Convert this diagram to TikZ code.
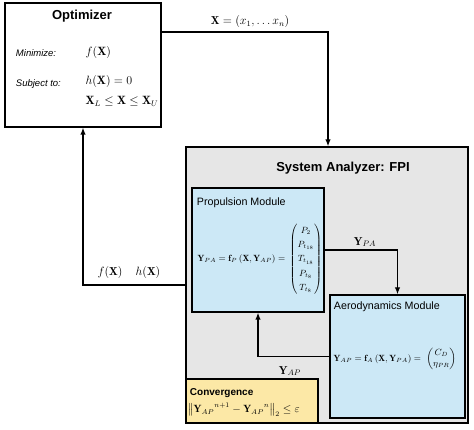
\documentclass[tikz,border=0pt]{standalone}
\usepackage{amsmath}
\usepackage{fontspec}
\setsansfont{Liberation Sans}
\usetikzlibrary{arrows.meta}

\definecolor{sysgray}{HTML}{E6E6E6}
\definecolor{modblue}{HTML}{CCE8F6}
\definecolor{convyellow}{HTML}{FCE8A6}

\begin{document}
\begin{tikzpicture}[x=1pt, y=-1pt, line width=1.3pt, line join=miter,
  box/.style={draw, rectangle, inner sep=0pt},
  conn/.style={-{Latex[length=7pt,width=5.5pt]}},
  title/.style={font=\sffamily\bfseries\fontsize{13}{15}\selectfont},
  modlabel/.style={font=\sffamily\fontsize{10.7}{12}\selectfont, anchor=west},
  sublabel/.style={font=\sffamily\itshape\fontsize{9.5}{11}\selectfont, anchor=west},
  eq/.style={font=\fontsize{12}{14}\selectfont, anchor=west, inner sep=0pt},
  smalleq/.style={font=\fontsize{9}{11}\selectfont, anchor=west, inner sep=0pt},
  lbl/.style={font=\fontsize{11.5}{14}\selectfont, inner sep=0pt}]

  %% ════ boxes ════
  \node[box, fill=white, minimum width=156pt, minimum height=124pt] (opt) at (83,65) {};
  \node[box, fill=sysgray, minimum width=282pt, minimum height=276pt] (sys) at (327,285) {};
  \node[box, fill=modblue, minimum width=132pt, minimum height=124pt] (prop) at (258,250) {};
  \node[box, fill=modblue, minimum width=135pt, minimum height=123pt] (aero) at (397.5,356.5) {};
  \node[box, fill=convyellow, minimum width=132pt, minimum height=44pt] (conv) at (252,401) {};

  %% ════ optimizer text ════
  \node[title] (opttitle) at (82,16) {Optimizer};
  \node[sublabel] (minlbl) at (12,53) {Minimize:};
  \node[eq] (minobj) at (85,53) {$f(\mathbf{X})$};
  \node[sublabel] (sublbl) at (12,84) {Subject to:};
  \node[eq] (eqcon) at (85,82) {$h(\mathbf{X}) = 0$};
  \node[eq] (bndcon) at (85,101) {$\mathbf{X}_L \le \mathbf{X} \le \mathbf{X}_U$};

  %% ════ system analyzer text ════
  \node[title] (systitle) at (343,168) {System Analyzer: FPI};
  \node[modlabel] (proptitle) at (193,203) {Propulsion Module};
  \node[smalleq] (propeq) at (197,259) {$\mathbf{Y}_{PA} = \mathbf{f}_P\,(\mathbf{X},\mathbf{Y}_{AP}) =\,
    \renewcommand{\arraystretch}{1.3}\begin{pmatrix} P_2\\ P_{t_{18}}\\ T_{t_{18}}\\ P_{t_8}\\ T_{t_8} \end{pmatrix}$};
  \node[modlabel] (aerotitle) at (330,307) {Aerodynamics Module};
  \node[smalleq] (aeroeq) at (333,359) {$\mathbf{Y}_{AP} = \mathbf{f}_A\,(\mathbf{X},\mathbf{Y}_{PA}) = \;
    \begin{pmatrix} C_D\\ \eta_{PR} \end{pmatrix}$};
  \node[font=\sffamily\bfseries\fontsize{10}{12}\selectfont, anchor=west] (convtitle) at (186,393) {Convergence};
  \node[eq, font=\fontsize{10.5}{12}\selectfont] (conveq) at (187,410) {$\left\| {\mathbf{Y}_{AP}}^{n+1} - {\mathbf{Y}_{AP}}^{n} \right\|_2 \le \varepsilon$};

  %% ════ connectors ════
  \coordinate (xout) at (328,32);
  \draw[conn] (opt.east |- xout) -| (sys.north -| xout);
  \draw[conn] (prop.east) -| (aero.north);
  \draw[conn] (aero.west) -| (prop.south);
  \draw[conn] (sys.west) -| (opt.south);

  %% ════ connector labels ════
  \node[lbl] (xlbl) at (250,22) {$\mathbf{X} = (x_1,\ldots x_n)$};
  \node[lbl] (ypalbl) at (365,242) {$\mathbf{Y}_{PA}$};
  \node[lbl] (yaplbl) at (290,371) {$\mathbf{Y}_{AP}$};
  \node[lbl] (fxlbl) at (110,273) {$f(\mathbf{X})$};
  \node[lbl] (hxlbl) at (148,273) {$h(\mathbf{X})$};

  \pgfresetboundingbox
  \path[use as bounding box] (0,0) rectangle (474,430);
\end{tikzpicture}
\end{document}
